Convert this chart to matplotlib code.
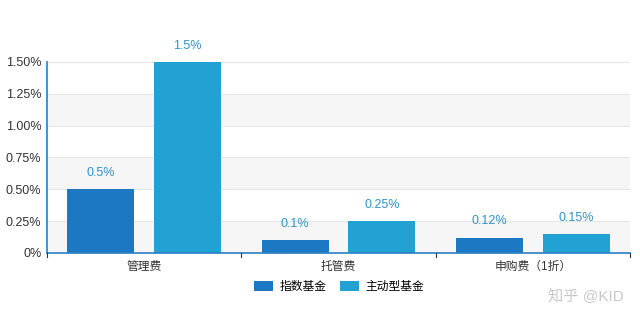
import numpy as np
import matplotlib.pyplot as plt

plt.rcParams['font.family'] = ['Liberation Sans', 'Noto Sans CJK SC', 'DejaVu Sans']

categories = ["管理费", "托管费", "申购费（1折）"]
series_names = ["指数基金", "主动型基金"]
index_fund = [0.5, 0.1, 0.12]
active_fund = [1.5, 0.25, 0.15]
labels_index = ["0.5%", "0.1%", "0.12%"]
labels_active = ["1.5%", "0.25%", "0.15%"]
yticks = [0, 0.25, 0.5, 0.75, 1.0, 1.25, 1.5]
ytick_labels = ["0%", "0.25%", "0.50%", "0.75%", "1.00%", "1.25%", "1.50%"]

c1 = "#1c78c2"
c2 = "#21a2d2"
lab_col = "#2f93c9"
axis_col = "#2a7fc4"

fig = plt.figure(figsize=(6.4, 3.21), dpi=100)
ax = fig.add_axes([0.0734, 0.212, 0.911, 0.595])

x = np.arange(len(categories))
w = 0.345
off = 0.223

# alternating bands
for i in range(0, len(yticks) - 1):
    if i % 2 == 0:
        ax.axhspan(yticks[i], yticks[i + 1], color="#f6f6f6", zorder=0, lw=0)
for t in yticks[1:]:
    ax.axhline(t, color="#e6e6e6", lw=0.8, zorder=0.5)

b1 = ax.bar(x - off, index_fund, w, color=c1, label=series_names[0], zorder=2)
b2 = ax.bar(x + off, active_fund, w, color=c2, label=series_names[1], zorder=2)

for xi, v, s in zip(x - off, index_fund, labels_index):
    ax.text(xi, v + 0.08, s, ha="center", va="bottom", color=lab_col, fontsize=9)
for xi, v, s in zip(x + off, active_fund, labels_active):
    ax.text(xi, v + 0.08, s, ha="center", va="bottom", color=lab_col, fontsize=9)

ax.set_xlim(-0.5, 2.5)
ax.set_ylim(0, 1.5)
ax.set_yticks(yticks)
ax.set_yticklabels(ytick_labels, fontsize=9, color="#333333")
ax.set_xticks(x)
ax.set_xticklabels(categories, fontsize=8.5, color="#333333")
ax.tick_params(axis="x", length=0, pad=6)
ax.tick_params(axis="y", length=0, pad=4)
for b in [-0.5, 0.5, 1.5, 2.5]:
    ax.plot([b, b], [0, -0.03], color="#333333", lw=0.8, clip_on=False, zorder=3)

for s in ["top", "right"]:
    ax.spines[s].set_visible(False)
ax.spines["left"].set_color(axis_col)
ax.spines["bottom"].set_color(axis_col)
ax.spines["left"].set_linewidth(1.2)
ax.spines["bottom"].set_linewidth(1.2)

fig.legend(handles=[b1, b2], loc="center", bbox_to_anchor=(0.53, 0.105), ncol=2,
           frameon=False, fontsize=8.5, handlelength=1.6, handleheight=0.9,
           columnspacing=1.2, handletextpad=0.5)

fig.text(0.975, 0.075, "知乎 @KID", ha="right", va="center", color="#c8c8c8", fontsize=11)

fig.savefig("out.png", dpi=100)
